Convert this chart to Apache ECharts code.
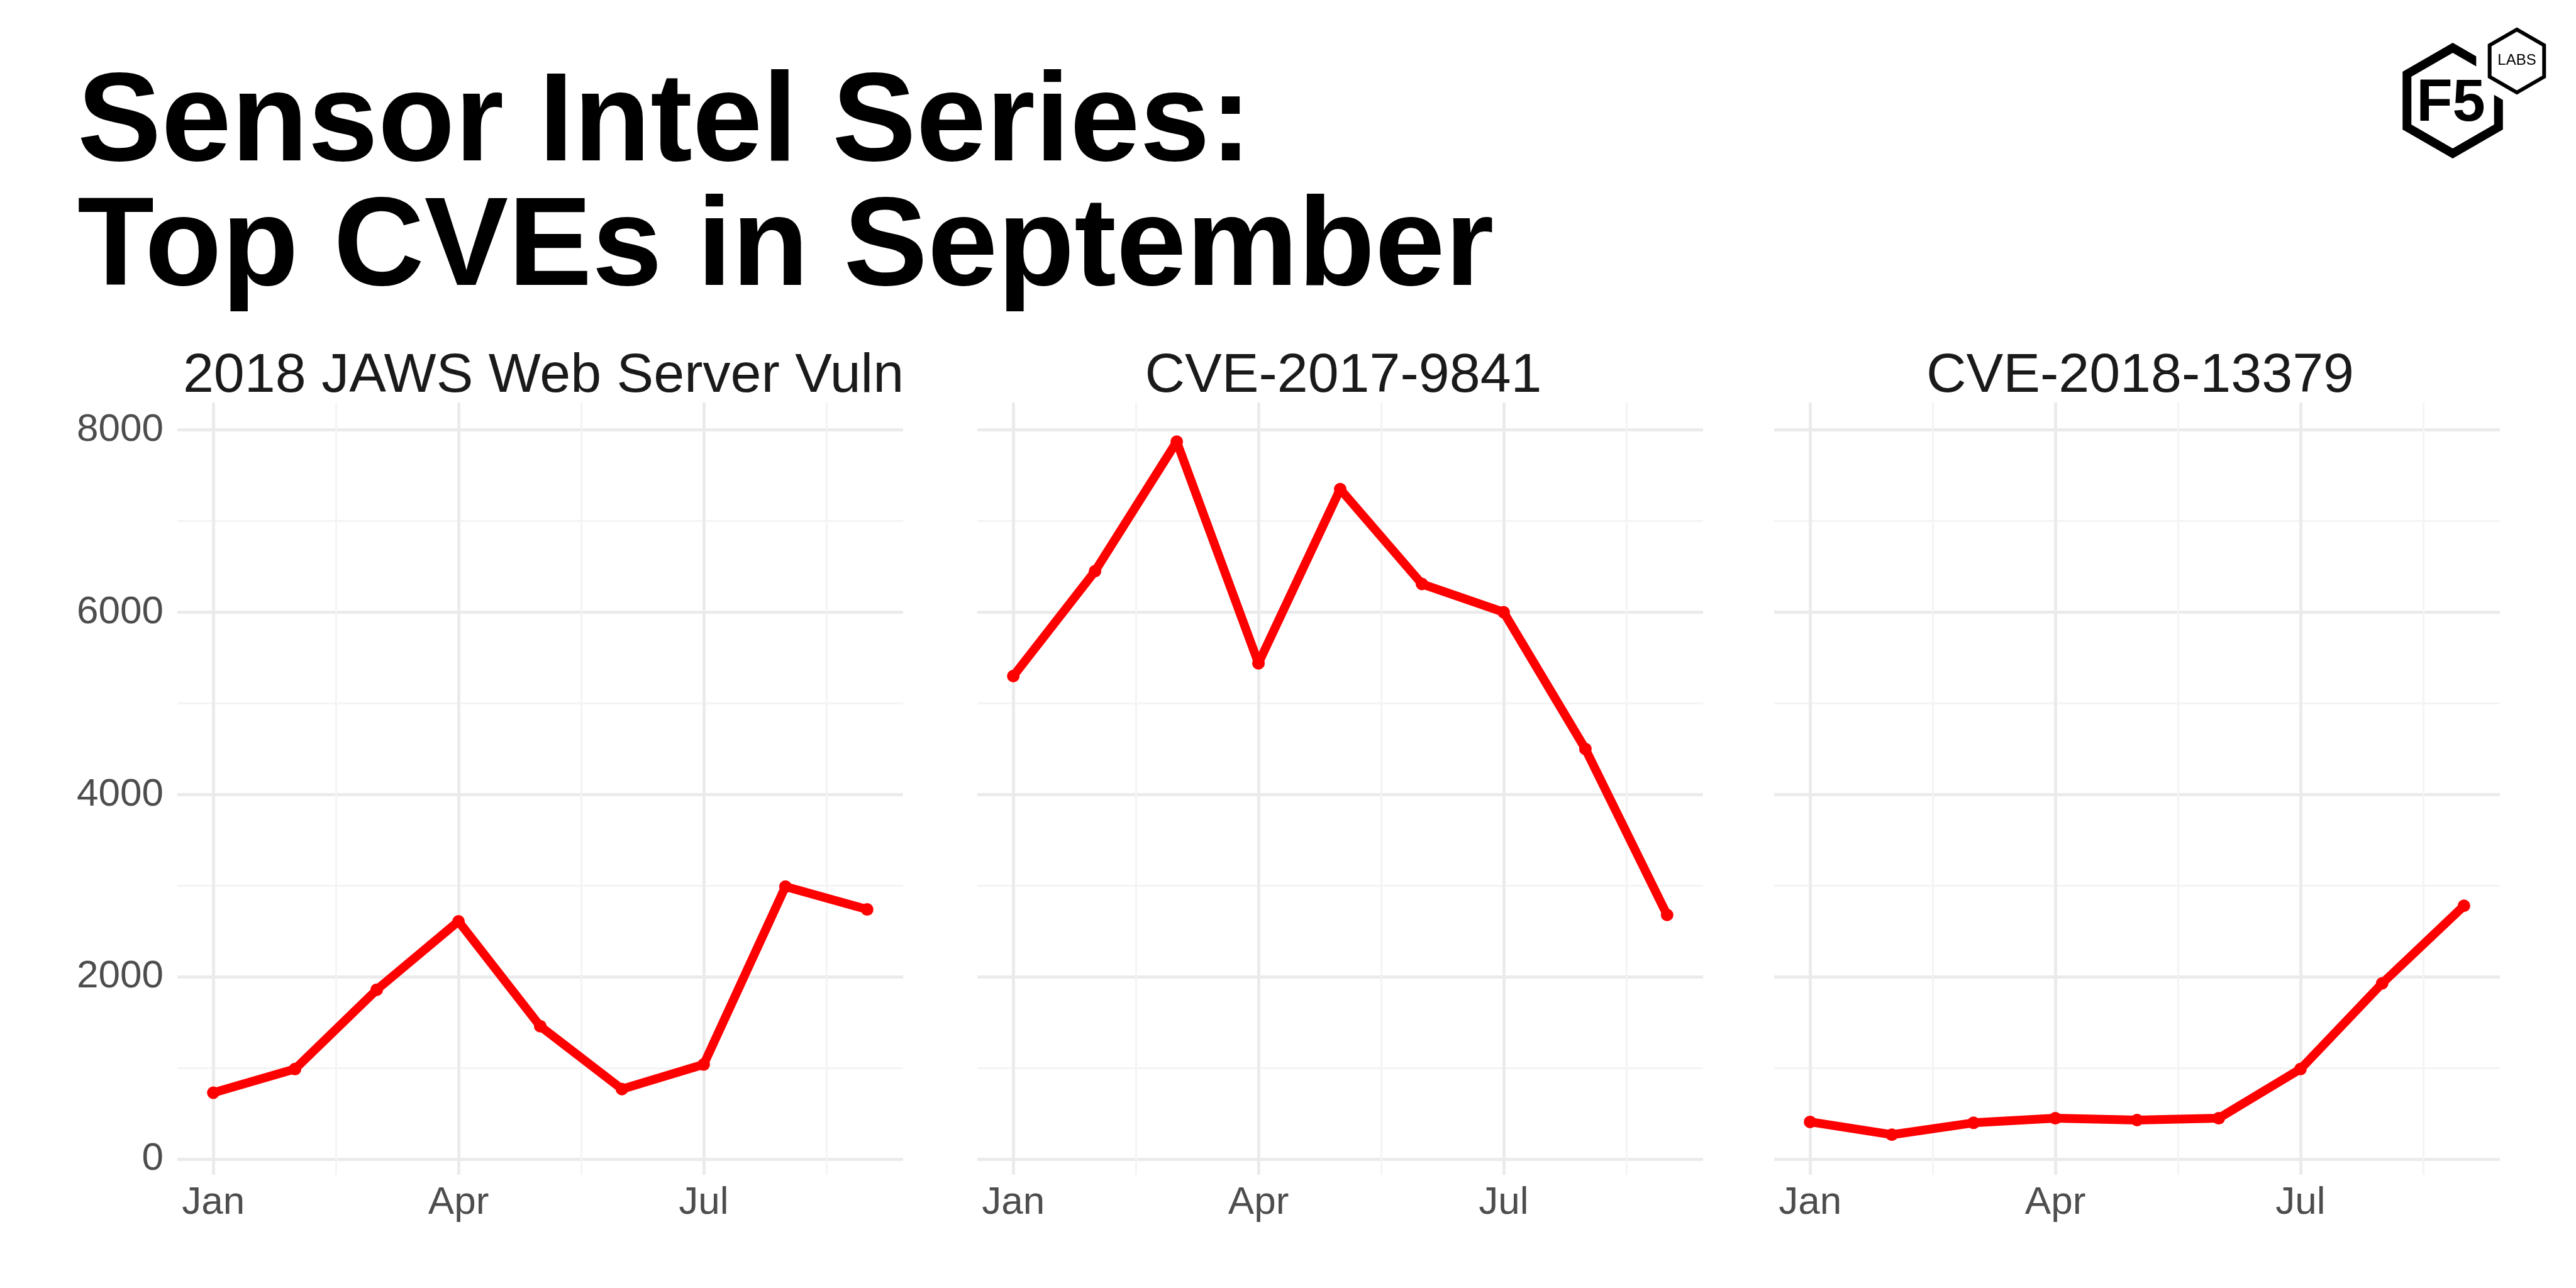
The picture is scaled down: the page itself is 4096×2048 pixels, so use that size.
<!DOCTYPE html>
<html><head><meta charset="utf-8">
<script src="https://cdn.jsdelivr.net/npm/echarts@6/dist/echarts.min.js"></script>
<style>html,body{margin:0;padding:0;background:#fff}#c{width:4096px;height:2048px}</style>
</head><body><div id="c"></div>
<script>
const months = ['Jan','Feb','Mar','Apr','May','Jun','Jul','Aug','Sep'];
const panelTitles = ['2018 JAWS Web Server Vuln','CVE-2017-9841','CVE-2018-13379'];
const jawsValues = [730, 990, 1860, 2610, 1460, 770, 1040, 2990, 2740];
const cve9841Values = [5300, 6450, 7870, 5440, 7350, 6310, 6000, 4500, 2680];
const cve13379Values = [410, 270, 400, 450, 430, 450, 990, 1930, 2780];
const yTicks = [0, 2000, 4000, 6000, 8000];
const yMinor = [1000, 3000, 5000, 7000];
const xTicks = [1, 4, 7];
const xMinor = [2.5, 5.5, 8.5];
const seriesValues = [jawsValues, cve9841Values, cve13379Values];

const chart = echarts.init(document.getElementById('c'));
const lefts = [282, 1554, 2821];
const W = 1154, TOP = 640, H = 1228;
const font = 'Liberation Sans, Arial, sans-serif';
const grids = [], xAxes = [], yAxes = [], series = [], titles = [];
seriesValues.forEach((vals, i) => {
  grids.push({left: lefts[i], top: TOP, width: W, height: H});
  xAxes.push({type: 'value', gridIndex: i, min: 0.56, max: 9.44,
    axisLine: {show: false}, axisTick: {show: false}, splitLine: {show: false},
    axisLabel: {customValues: xTicks, formatter: v => months[Math.round(v) - 1],
      color: '#4d4d4d', fontSize: 62, fontFamily: font, margin: 14}});
  yAxes.push({type: 'value', gridIndex: i, min: -170, max: 8300,
    axisLine: {show: false}, axisTick: {show: false}, splitLine: {show: false},
    axisLabel: {show: i === 0, customValues: yTicks, formatter: v => String(v), color: '#4d4d4d', fontSize: 62,
      fontFamily: font, margin: 22}});
  const ml = [];
  yTicks.forEach(v => ml.push({yAxis: v, lineStyle: {color: '#ebebeb', width: 5, type: 'solid'}}));
  yMinor.forEach(v => ml.push({yAxis: v, lineStyle: {color: '#f4f4f4', width: 3, type: 'solid'}}));
  xTicks.forEach(v => ml.push({xAxis: v, lineStyle: {color: '#ebebeb', width: 5, type: 'solid'}}));
  xMinor.forEach(v => ml.push({xAxis: v, lineStyle: {color: '#f4f4f4', width: 3, type: 'solid'}}));
  series.push({type: 'line', xAxisIndex: i, yAxisIndex: i,
    data: vals.map((v, k) => [k + 1, v]),
    lineStyle: {color: '#ff0000', width: 14}, itemStyle: {color: '#ff0000'},
    symbol: 'circle', symbolSize: 20, z: 5,
    markLine: {silent: true, symbol: 'none', label: {show: false}, data: ml, z: 1}});
  titles.push({text: panelTitles[i], left: lefts[i] + W / 2, top: 550, textAlign: 'center',
    textStyle: {fontFamily: font, fontWeight: 'normal', fontSize: 88, color: '#1a1a1a'}});
});
titles.push({text: 'Sensor Intel Series:\nTop CVEs in September', left: 118, top: 96,
  textStyle: {fontFamily: font, fontWeight: 'bold', fontSize: 200, lineHeight: 198, color: '#000'}});

function hex(cx, cy, r) {
  const p = [];
  for (let k = 0; k < 6; k++) { const a = Math.PI / 6 + k * Math.PI / 3; p.push([cx + r * Math.cos(a), cy + r * Math.sin(a)]); }
  return p;
}
const big = hex(3900, 160, 84);
chart.setOption({
  animation: false,
  title: titles, grid: grids, xAxis: xAxes, yAxis: yAxes, series: series,
  graphic: [
    {type: 'polygon', shape: {points: big}, style: {stroke: '#000', lineWidth: 14, fill: 'none'}},
    {type: 'polygon', shape: {points: hex(4002, 97, 62)}, style: {stroke: '#fff', lineWidth: 22, fill: '#fff'}},
    {type: 'polygon', shape: {points: hex(4002, 97, 50)}, style: {stroke: '#000', lineWidth: 6, fill: '#fff'}},
    {type: 'text', style: {text: 'F5', x: 3897, y: 166, align: 'center', verticalAlign: 'middle', font: 'bold 94px Liberation Sans, Arial', fill: '#000'}},
    {type: 'text', style: {text: 'LABS', x: 4002, y: 96, align: 'center', verticalAlign: 'middle', font: '24px Liberation Sans, Arial', fill: '#000'}}
  ]
});
</script></body></html>
